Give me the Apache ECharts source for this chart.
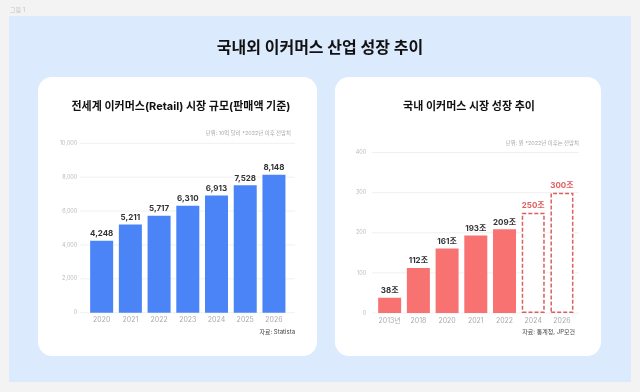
<!DOCTYPE html>
<html><head><meta charset="utf-8">
<script src="https://cdn.jsdelivr.net/npm/echarts@6/dist/echarts.min.js"></script>
<style>html,body{margin:0;padding:0;background:#f3f3f3;}#c{width:640px;height:392px;}</style>
</head><body><div id="c"></div>
<script>
// ---- data ----
const worldYears = ['2020','2021','2022','2023','2024','2025','2026'];
const worldValues = [4248, 5211, 5717, 6310, 6913, 7528, 8148];
const worldTicks = [0, 2000, 4000, 6000, 8000, 10000];

const krYears = ['2013년','2018','2020','2021','2022','2024','2026'];
const krValues = [38, 112, 161, 193, 209, 250, 300];
const krForecast = [false, false, false, false, false, true, true];
const krTicks = [0, 100, 200, 300, 400];

const mainTitle = '국내외 이커머스 산업 성장 추이';
const leftTitle = '전세계 이커머스(Retail) 시장 규모(판매액 기준)';
const rightTitle = '국내 이커머스 시장 성장 추이';
const leftUnit = '단위: 10억 달러 *2022년 이후 전망치';
const rightUnit = '단위: 원 *2022년 이후는 전망치';
const leftSource = '자료: Statista';
const rightSource = '자료: 통계청, JP모건';
const figLabel = '그림 1';

const FONT = 'Inter, "Noto Sans CJK KR", sans-serif';
const BLUE = '#4a84f6';
const RED = '#f87272';
const RED_DASH = '#d9605f';

const chart = echarts.init(document.getElementById('c'), null, {renderer: 'canvas'});

function baseGraphics() {
  return [
    {type:'text', left:10, top:7, style:{text:figLabel, fontSize:6, fill:'#c4c4c4', fontFamily:FONT}},
    {type:'rect', shape:{x:9, y:16, width:622, height:366}, style:{fill:'#dbeafc'}, z:-10},
    {type:'rect', shape:{x:38, y:77, width:279, height:279, r:14}, style:{fill:'#ffffff'}, z:-9},
    {type:'rect', shape:{x:335, y:77, width:266, height:279, r:14}, style:{fill:'#ffffff'}, z:-9},
    {type:'text', x:320, y:48.5, style:{text:mainTitle, fontSize:16, fontWeight:'bold', fill:'#111', fontFamily:FONT, align:'center', verticalAlign:'middle'}},
    {type:'text', x:181, y:106.5, style:{text:leftTitle, fontSize:11, fontWeight:'bold', fill:'#111', fontFamily:FONT, align:'center', verticalAlign:'middle'}},
    {type:'text', x:469, y:106.5, style:{text:rightTitle, fontSize:11, fontWeight:'bold', fill:'#111', fontFamily:FONT, align:'center', verticalAlign:'middle'}},
    {type:'text', x:291, y:133.5, style:{text:leftUnit, fontSize:5.4, fill:'#a8a8a8', fontFamily:FONT, align:'right', verticalAlign:'middle'}},
    {type:'text', x:579, y:143.5, style:{text:rightUnit, fontSize:5.4, fill:'#a8a8a8', fontFamily:FONT, align:'right', verticalAlign:'middle'}},
    {type:'text', x:295, y:332.5, style:{text:leftSource, fontSize:6, fill:'#444', fontFamily:FONT, align:'right', verticalAlign:'middle'}},
    {type:'text', x:575, y:332.5, style:{text:rightSource, fontSize:6, fill:'#444', fontFamily:FONT, align:'right', verticalAlign:'middle'}}
  ];
}

const option = {
  backgroundColor: '#f3f3f3',
  animation: false,
  textStyle: {fontFamily: FONT},
  graphic: baseGraphics(),
  grid: [
    {left: 87.3, top: 143.3, width: 201, height: 169.4},
    {left: 375.3, top: 152.5, width: 201, height: 160.5}
  ],
  xAxis: [
    {type:'category', gridIndex:0, data: worldYears, axisLine:{show:false}, axisTick:{show:false},
     axisLabel:{interval:0, color:'#aaaaaa', fontSize:7, margin:4, fontFamily:FONT}},
    {type:'category', gridIndex:1, data: krYears, axisLine:{show:false}, axisTick:{show:false},
     axisLabel:{interval:0, color:'#aaaaaa', fontSize:7, margin:4, fontFamily:FONT}}
  ],
  yAxis: [
    {type:'value', gridIndex:0, min: worldTicks[0], max: worldTicks[worldTicks.length-1], interval: worldTicks[1]-worldTicks[0],
     splitLine:{show:false}, axisLine:{show:false}, axisTick:{show:false},
     axisLabel:{color:'#bbbbbb', fontSize:5.5, margin:10, fontFamily:FONT, formatter: v => v.toLocaleString('en-US')}},
    {type:'value', gridIndex:1, min: krTicks[0], max: krTicks[krTicks.length-1], interval: krTicks[1]-krTicks[0],
     splitLine:{show:false}, axisLine:{show:false}, axisTick:{show:false},
     axisLabel:{color:'#bbbbbb', fontSize:5.5, margin:9, fontFamily:FONT}}
  ],
  series: [
    {type:'bar', xAxisIndex:0, yAxisIndex:0, barWidth: 23, z: 5,
     data: worldValues,
     itemStyle:{color: BLUE},
     label:{show:true, position:'top', distance:3, color:'#333', fontSize:8, fontWeight:'bold', fontFamily:FONT,
            formatter: p => p.value.toLocaleString('en-US')}},
    {type:'bar', xAxisIndex:1, yAxisIndex:1, barWidth: 23, z: 5,
     data: krValues.map((v, i) => krForecast[i] ? {
        value: v,
        itemStyle:{color:'#ffffff', borderColor: RED_DASH, borderWidth: 1.5, borderType: [4, 2]},
        label:{color:'#e05e5e'}
      } : {value: v}),
     itemStyle:{color: RED},
     label:{show:true, position:'top', distance:3, color:'#333', fontSize:8, fontWeight:'bold', fontFamily:FONT,
            formatter: p => p.value + '조'}}
  ]
};
chart.setOption(option);

// horizontal gridlines extending slightly past the plot area
const g = baseGraphics();
worldTicks.forEach(t => {
  const y = chart.convertToPixel({yAxisIndex:0}, t);
  g.push({type:'line', shape:{x1:80, y1:y, x2:295, y2:y}, style:{stroke:'#f0f0f0', lineWidth:1}, z:-1});
});
krTicks.forEach(t => {
  const y = chart.convertToPixel({yAxisIndex:1}, t);
  g.push({type:'line', shape:{x1:372, y1:y, x2:579, y2:y}, style:{stroke:'#f0f0f0', lineWidth:1}, z:-1});
});
chart.setOption({graphic: g});
</script>
</body></html>
